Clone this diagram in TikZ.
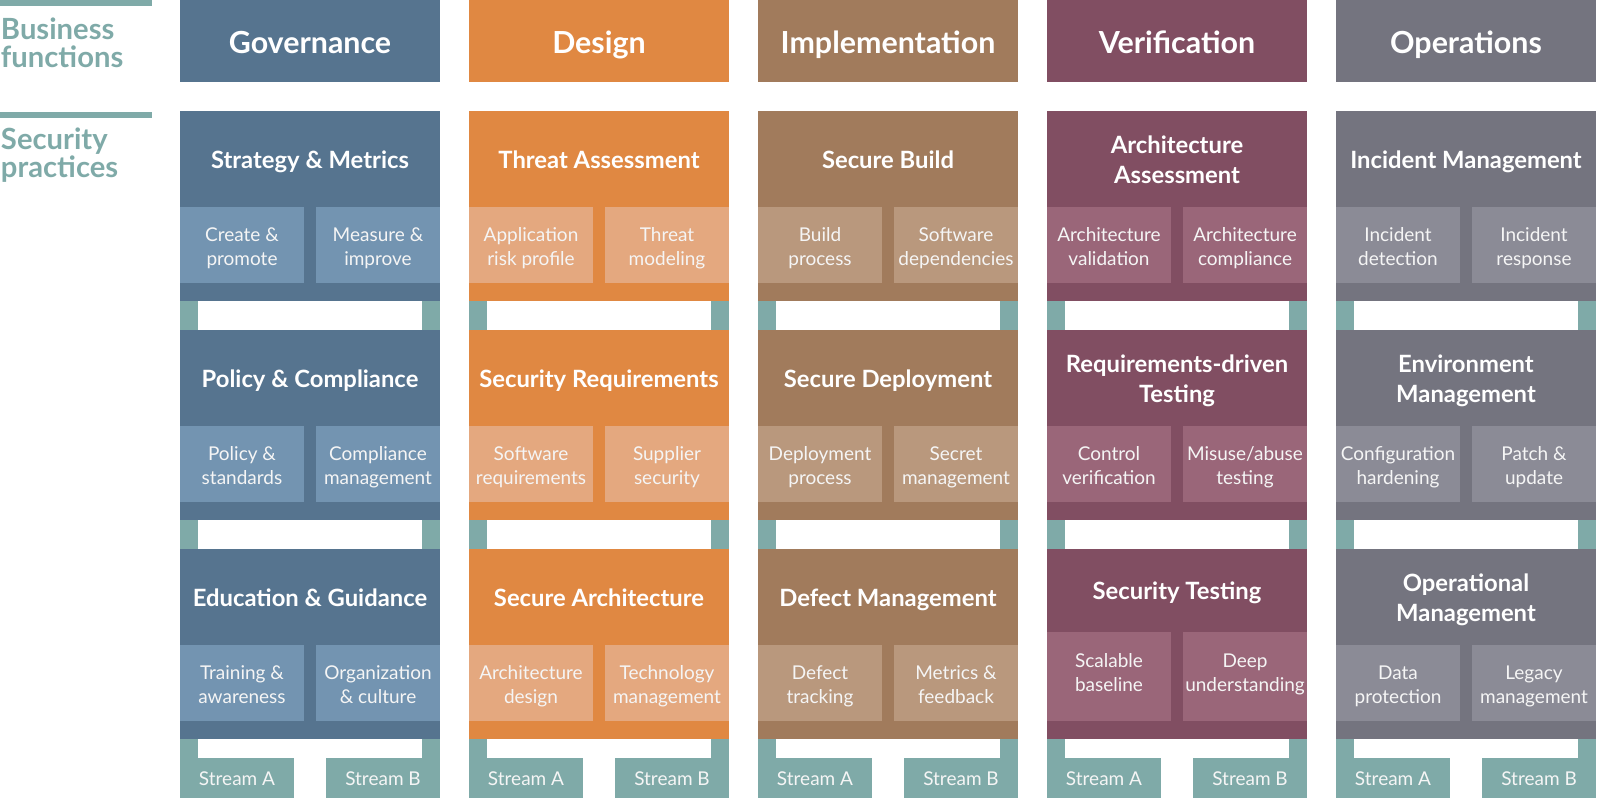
\documentclass[tikz,border=0pt]{standalone}
\usepackage{fontspec}
\setmainfont{Lato}
\definecolor{tealc}{HTML}{7FAAA8}
\definecolor{govD}{HTML}{56748F}
\definecolor{govL}{HTML}{7394B1}
\definecolor{desD}{HTML}{E08842}
\definecolor{desL}{HTML}{E4A87F}
\definecolor{impD}{HTML}{A17B5C}
\definecolor{impL}{HTML}{B9987D}
\definecolor{verD}{HTML}{814E62}
\definecolor{verL}{HTML}{9A6679}
\definecolor{opsD}{HTML}{74747F}
\definecolor{opsL}{HTML}{8B8B96}
\def\subh{12pt}
\tikzset{
  hdr/.style={anchor=north west, minimum width=130pt, minimum height=41pt, inner sep=0pt, outer sep=0pt,
    text=white, font=\fontsize{15.2}{31.5}\bfseries\selectfont, execute at begin node=\strut},
  pbox/.style={anchor=north west, minimum width=130pt, minimum height=95pt, inner sep=0pt, outer sep=0pt},
  ptitle/.style={inner sep=0pt, outer sep=0pt, align=center, text=white,
    font=\fontsize{11.9}{15}\bfseries\selectfont},
  subbox/.style={minimum width=62pt, inner sep=0pt, outer sep=0pt, align=center, text=white!96!black,
    font=\fontsize{9.5}{12}\selectfont},
  stream/.style={anchor=north west, minimum width=57pt, minimum height=20.25pt, inner sep=0pt, outer sep=0pt,
    fill=tealc, text=white!96!black, font=\fontsize{9.5}{12}\selectfont, execute at begin node={\rule[-3.6pt]{0pt}{15pt}}},
  lbl/.style={anchor=north west, inner sep=0pt, outer sep=0pt, align=left, text=tealc,
    font=\fontsize{14.6}{14}\bfseries\selectfont}
}
\newcommand\sa{\rule{0pt}{\subh}}
\newcommand\sz{\rule[-3.6pt]{0pt}{0pt}}
\newcommand\ta{\rule{0pt}{10.5pt}}
\newcommand\tz{\rule[-4.5pt]{0pt}{0pt}}
% #1 id, #2 colour prefix, #3 left, #4 top, #5 title, #6 sub A, #7 sub B, #8 title offset (pt), #9 sub top offset (pt)
\newcommand\prac[9]{%
  \node[pbox, fill=#2D] (#1) at (#3,#4) {};
  \node[ptitle] (#1t) at ([yshift=-#8pt]#1.north) {\ta#5\tz};
  \node[subbox, fill=#2L, anchor=north west, minimum height=86pt-#9pt] (#1a) at ([yshift=-#9pt]#1.north west) {\sa#6\sz};
  \node[subbox, fill=#2L, anchor=north east, minimum height=86pt-#9pt] (#1b) at ([yshift=-#9pt]#1.north east) {\sa#7\sz};
}
% #1 prefix, #2 left, #3 header text
\newcommand\fcol[3]{%
  \node[hdr, fill=#1D] (#1H) at (#2,0) {#3};
  \fill[tealc] (#2,301) rectangle ++(18,29);
  \fill[tealc] (#2+242,301) rectangle ++(18,29);
  \fill[tealc] (#2,520) rectangle ++(18,29);
  \fill[tealc] (#2+242,520) rectangle ++(18,29);
  \fill[tealc] (#2,739) rectangle (#2+18,798);
  \fill[tealc] (#2+242,739) rectangle (#2+260,798);
  \node[stream] (#1SA) at (#2,757.5) {Stream A};
  \node[stream] (#1SB) at (#2+146,757.5) {Stream B};
}
\begin{document}
\begin{tikzpicture}[x=0.5pt,y=-0.5pt]
\useasboundingbox (0,0) rectangle (1600,798);
% left labels
\fill[tealc] (0,0) rectangle (152,6);
\fill[tealc] (0,111.5) rectangle (152,117.5);
\node[lbl] (bf) at (1,18) {Business\\functions};
\node[lbl] (sp) at (1,128) {Security\\practices};
% columns
\fcol{gov}{180}{Governance}
\fcol{des}{469}{Design}
\fcol{imp}{758}{Implementation}
\fcol{ver}{1047}{Verification}
\fcol{ops}{1336}{Operations}
% Governance
\prac{g1}{gov}{180}{111}{Strategy \& Metrics}{Create \&\\promote}{Measure \&\\improve}{25.65}{48}
\prac{g2}{gov}{180}{330}{Policy \& Compliance}{Policy \&\\standards}{Compliance\\management}{25.65}{48}
\prac{g3}{gov}{180}{549}{Education \& Guidance}{Training \&\\awareness}{Organization\\\& culture}{25.65}{48}
% Design
\prac{d1}{des}{469}{111}{Threat Assessment}{Application\\risk profile}{Threat\\modeling}{25.65}{48}
\prac{d2}{des}{469}{330}{Security Requirements}{Software\\requirements}{Supplier\\security}{25.65}{48}
\prac{d3}{des}{469}{549}{Secure Architecture}{Architecture\\design}{Technology\\management}{25.65}{48}
% Implementation
\prac{i1}{imp}{758}{111}{Secure Build}{Build\\process}{Software\\dependencies}{25.65}{48}
\prac{i2}{imp}{758}{330}{Secure Deployment}{Deployment\\process}{Secret\\management}{25.65}{48}
\prac{i3}{imp}{758}{549}{Defect Management}{Defect\\tracking}{Metrics \&\\feedback}{25.65}{48}
% Verification
\prac{v1}{ver}{1047}{111}{Architecture\\Assessment}{Architecture\\validation}{Architecture\\compliance}{25.65}{48}
\prac{v2}{ver}{1047}{330}{Requirements-driven\\Testing}{Control\\verification}{Misuse/abuse\\testing}{25.65}{48}
\def\subh{7pt}
\prac{v3}{ver}{1047}{549}{Security Testing}{Scalable\\baseline}{Deep\\understanding}{22.15}{41.5}
\def\subh{12pt}
% Operations
\prac{o1}{ops}{1336}{111}{Incident Management}{Incident\\detection}{Incident\\response}{25.65}{48}
\prac{o2}{ops}{1336}{330}{Environment\\Management}{Configuration\\hardening}{Patch \&\\update}{25.65}{48}
\prac{o3}{ops}{1336}{549}{Operational\\Management}{Data\\protection}{Legacy\\management}{25.65}{48}
\end{tikzpicture}
\end{document}
